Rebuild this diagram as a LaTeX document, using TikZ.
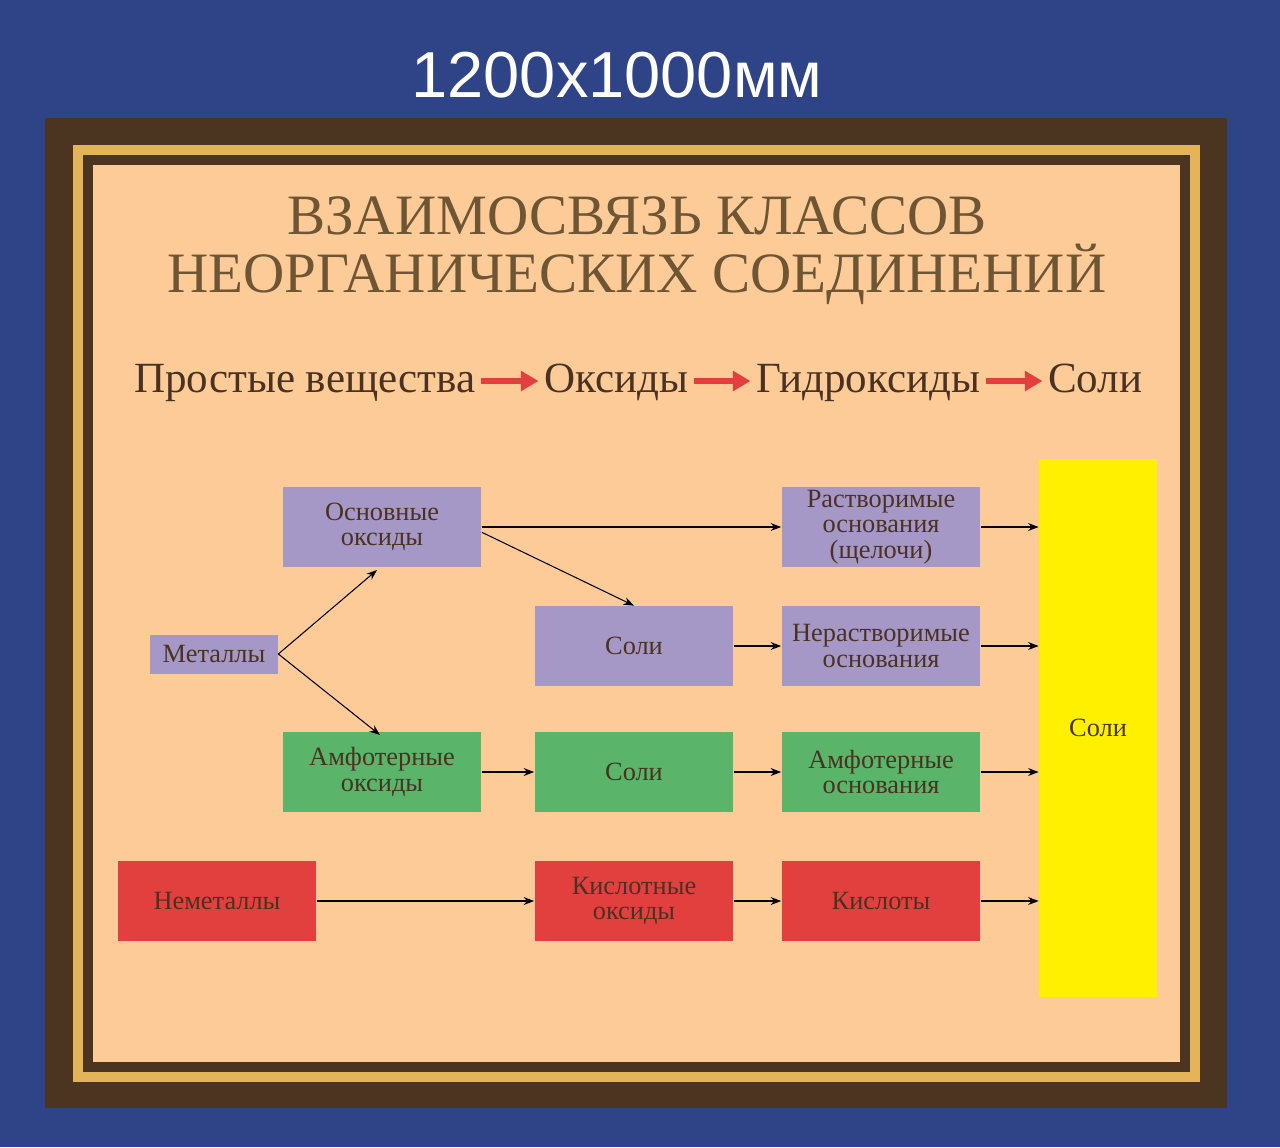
\documentclass[tikz,border=0pt]{standalone}
\usepackage{fontspec}
\setmainfont{Liberation Serif}
\newfontfamily\labelsans{Liberation Sans}
\usetikzlibrary{arrows.meta}
\definecolor{bgblue}{HTML}{2F4487}
\definecolor{frame}{HTML}{4B3420}
\definecolor{gold}{HTML}{E3B45A}
\definecolor{peach}{HTML}{FDCB98}
\definecolor{titlebrown}{HTML}{6E5533}
\definecolor{inkbrown}{HTML}{4A3222}
\definecolor{lav}{HTML}{A597C6}
\definecolor{grn}{HTML}{5AB469}
\definecolor{rd}{HTML}{E2403F}
\definecolor{yel}{HTML}{FFF000}
\tikzset{
  box/.style={inner sep=0pt,minimum width=3.98cm,minimum height=1.6cm,align=center,text=inkbrown,font=\fontsize{15}{14.5}\selectfont},
  chain/.style={text=inkbrown,font=\fontsize{24.5}{25}\selectfont,inner sep=1pt,anchor=base west},
  link/.style={-{Stealth[length=6pt,width=4.5pt]},semithick,black},
  redarrow/.style={-{Triangle[length=10pt,width=11pt]},line width=3.5pt,rd,shorten <=2pt,shorten >=2pt}
}
\begin{document}
\begin{tikzpicture}[x=0.02cm,y=-0.02cm]
        \useasboundingbox (0,0) rectangle (1280,1147);
        \fill[bgblue](0,0)rectangle(1280,1147);
        \fill[frame](45,118)rectangle(1227,1108);
        \fill[gold](73,145)rectangle(1200,1082);
        \fill[frame](83,155)rectangle(1190,1072);
        \fill[peach](93,165)rectangle(1180,1062);
        \node[text=white,font=\labelsans\fontsize{37}{37}\selectfont](size)at(617,75){1200x1000мм};

        \node[text=titlebrown,font=\fontsize{32.5}{33}\selectfont](title1)at(637,216){ВЗАИМОСВЯЗЬ КЛАССОВ};
        \node[text=titlebrown,font=\fontsize{32.5}{33}\selectfont](title2)at(637,274){НЕОРГАНИЧЕСКИХ СОЕДИНЕНИЙ};

        % chain of classes
        \node[chain](prostye)at(132,392){Простые вещества};
        \node[chain](oksidy)at(542,392){Оксиды};
        \node[chain](gidroksidy)at(754,392){Гидроксиды};
        \node[chain](soli)at(1046,392){Соли};
        \draw[redarrow](prostye.east|-0,381)--(oksidy.west|-0,381);
        \draw[redarrow](oksidy.east|-0,381)--(gidroksidy.west|-0,381);
        \draw[redarrow](gidroksidy.east|-0,381)--(soli.west|-0,381);

        % boxes
        \node[box,fill=lav](osnOks)at(382,527){Основные\\оксиды};
        \node[box,fill=lav,minimum width=2.56cm,minimum height=0.78cm](metally)at(214,654){Металлы};
        \node[box,fill=lav](rastv)at(881,527){Растворимые\\основания\\(щелочи)};
        \node[box,fill=lav](soliA)at(634,646){Соли};
        \node[box,fill=lav](nerastv)at(881,646){Нерастворимые\\основания};
        \node[box,fill=grn](amfOks)at(382,772){Амфотерные\\оксиды};
        \node[box,fill=grn](soliB)at(634,772){Соли};
        \node[box,fill=grn](amfOsn)at(881,772){Амфотерные\\основания};
        \node[box,fill=rd](nemet)at(217,901){Неметаллы};
        \node[box,fill=rd](kislOks)at(634,901){Кислотные\\оксиды};
        \node[box,fill=rd](kisl)at(881,901){Кислоты};
        \node[box,fill=yel,minimum width=2.36cm,minimum height=10.76cm](soliAll)at(1098,728){Соли};

        % connectors
        \coordinate (m1) at (377,570);
        \coordinate (m2) at (380,735);
        \draw[link](metally.east)--(m1);
        \draw[link](metally.east)--(m2);
        \draw[link](osnOks.east)--(rastv.west);
        \draw[link]([yshift=-3]osnOks.east)--(soliA.north);
        \draw[link](soliA)--(nerastv);
        \draw[link](amfOks)--(soliB);
        \draw[link](soliB)--(amfOsn);
        \draw[link](nemet)--(kislOks);
        \draw[link](kislOks)--(kisl);
        \draw[link](rastv.east)--(rastv.east-|soliAll.west);
        \draw[link](nerastv.east)--(nerastv.east-|soliAll.west);
        \draw[link](amfOsn.east)--(amfOsn.east-|soliAll.west);
        \draw[link](kisl.east)--(kisl.east-|soliAll.west);
\end{tikzpicture}
\end{document}
